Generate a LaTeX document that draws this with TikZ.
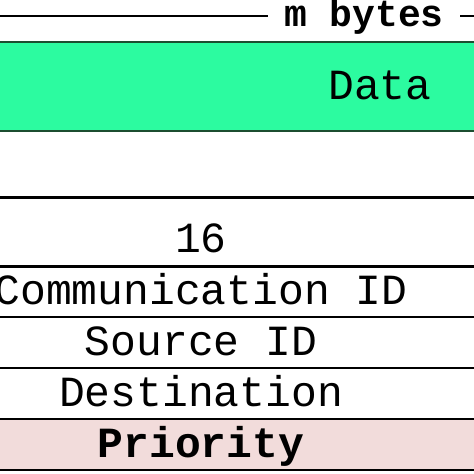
\documentclass[tikz,border=0pt]{standalone}
\usepackage{fontspec}
\setmonofont{Liberation Mono}
\usetikzlibrary{positioning}

\definecolor{datagreen}{RGB}{44,251,160}
\definecolor{darkgreen}{RGB}{28,78,48}
\definecolor{prioPink}{RGB}{242,220,219}

\tikzset{
	field/.style={draw, line width=2pt, rectangle, minimum width=600pt,
		font=\ttfamily\fontsize{43}{50}\selectfont, text height=25pt, text depth=0pt},
	dimlabel/.style={font=\ttfamily\bfseries\fontsize{38}{44}\selectfont, inner xsep=16pt, inner ysep=0pt}
}

\begin{document}
\begin{tikzpicture}[x=1pt,y=-1pt]
		\useasboundingbox (0,0) rectangle (474,474);
		\clip (0,0) rectangle (474,474);
		\fill[white] (0,0) rectangle (474,474);
		% size of the data part
		\node[dimlabel, anchor=base] (mbytes) at (364,26) {m bytes};
		\coordinate (dimL) at (-20,16);
		\coordinate (dimR) at (494,16);
		\draw[line width=2.5pt] (dimL) -- (dimL -| mbytes.west);
		\draw[line width=2.5pt] (dimR -| mbytes.east) -- (dimR);
		% packet fields
		\node[field, draw=darkgreen, fill=datagreen, minimum width=800pt, minimum height=89pt] (data) at (380,86.5) {Data};
		\node[field, line width=3pt, minimum height=69pt] (len) at (201,231.5) {};
		\node[font=\ttfamily\fontsize{43}{50}\selectfont, text height=25pt, text depth=0pt] (lenval) at (201,240) {16};
		\node[field, minimum height=51pt] (comm) at (201,291.5) {Communication ID};
		\node[field, minimum height=51pt] (src) at (201,342.5) {Source ID};
		\node[field, minimum height=51pt] (dst) at (201,393.5) {Destination};
		\node[field, fill=prioPink, minimum height=51pt, font=\ttfamily\bfseries\fontsize{43}{50}\selectfont] (prio) at (201,444.5) {Priority};
	\end{tikzpicture}
\end{document}
